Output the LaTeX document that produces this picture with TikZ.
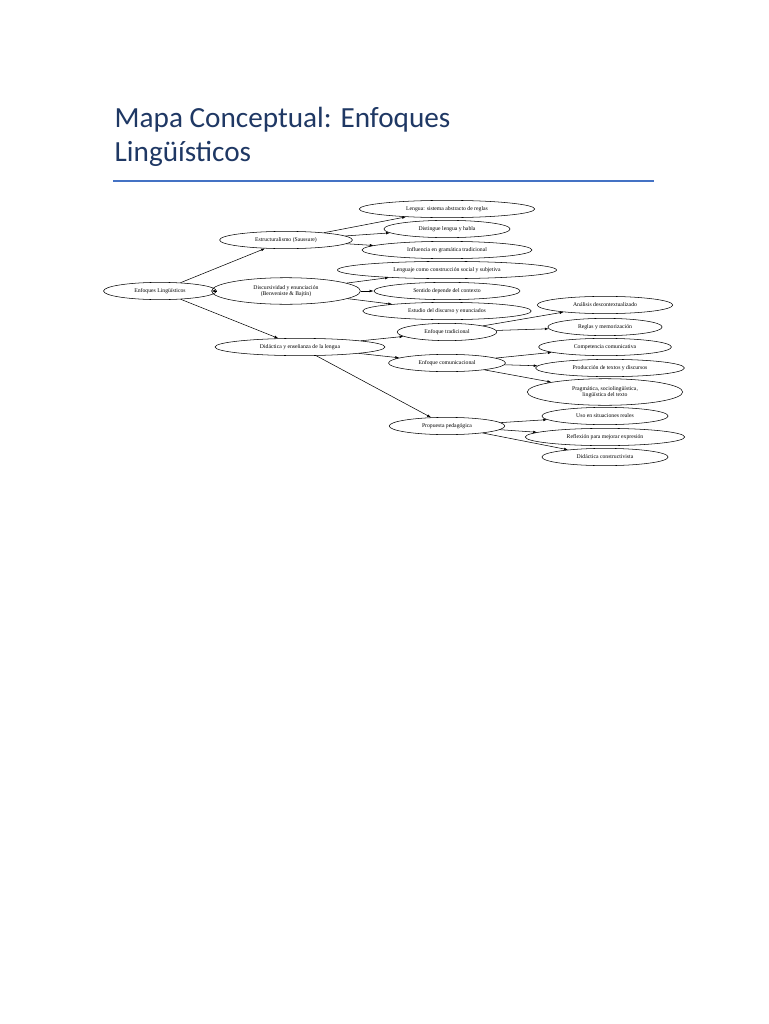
\documentclass[tikz,border=0pt]{standalone}
\usepackage{fontspec}
\newfontfamily\titlefont{Carlito}
\setmainfont{Liberation Serif}
\usetikzlibrary{shapes.geometric,arrows.meta}
\definecolor{titleblue}{HTML}{1F3864}
\definecolor{rule}{HTML}{4472C4}
\begin{document}
\begin{tikzpicture}[x=0.0264583cm,y=-0.0264583cm,
  el/.style={ellipse,draw,thin,inner sep=0pt,minimum height=13,font=\fontsize{4.3}{5}\selectfont,align=center},
  ar/.style={-{Latex[length=3pt,width=2pt]},thin}]
\useasboundingbox (0,0) rectangle (768,1024);
\node[anchor=west,text=titleblue,font=\titlefont\fontsize{22}{26}\selectfont,align=left] (title) at (110,137) {Mapa Conceptual: Enfoques\\Lingüísticos};
\coordinate (r1) at (113,181); \coordinate (r2) at (654,181);
\draw[rule,line width=1pt] (r1) -- (r2);
\node[el,minimum width=85] (root) at (160,291) {Enfoques Lingüísticos};
\node[el,minimum width=100] (est) at (286,240) {Estructuralismo (Saussure)};
\node[el,minimum width=112,minimum height=20] (dis) at (286,291) {Discursividad y enunciación\\(Benveniste \& Bajtín)};
\node[el,minimum width=128] (did) at (300,347) {Didáctica y enseñanza de la lengua};
\node[el,minimum width=132] (a1) at (447,209) {Lengua: sistema abstracto de reglas};
\node[el,minimum width=95] (a2) at (447,229) {Distingue lengua y habla};
\node[el,minimum width=128] (a3) at (447,250) {Influencia en gramática tradicional};
\node[el,minimum width=165] (b1) at (447,270) {Lenguaje como construcción social y subjetiva};
\node[el,minimum width=110] (b2) at (447,291) {Sentido depende del contexto};
\node[el,minimum width=127] (b3) at (447,311) {Estudio del discurso y enunciados};
\node[el,minimum width=75] (c1) at (447,332) {Enfoque tradicional};
\node[el,minimum width=88] (c2) at (447,363) {Enfoque comunicacional};
\node[el,minimum width=87] (c3) at (447,426) {Propuesta pedagógica};
\node[el,minimum width=102] (d1) at (605,305) {Análisis descontextualizado};
\node[el,minimum width=86] (d2) at (605,327) {Reglas y memorización};
\node[el,minimum width=100] (e1) at (605,347) {Competencia comunicativa};
\node[el,minimum width=112] (e2) at (610,368) {Producción de textos y discursos};
\node[el,minimum width=117,minimum height=20] (e3) at (605,392) {Pragmática, sociolingüística,\\lingüística del texto};
\node[el,minimum width=95] (f1) at (605,416) {Uso en situaciones reales};
\node[el,minimum width=120] (f2) at (605,437) {Reflexión para mejorar expresión};
\node[el,minimum width=95] (f3) at (605,457) {Didáctica constructivista};
\foreach \s/\t in {root/est,root/dis,root/did,est/a1,est/a2,est/a3,dis/b1,dis/b2,dis/b3,did/c1,did/c2,did/c3,c1/d1,c1/d2,c2/e1,c2/e2,c2/e3,c3/f1,c3/f2,c3/f3}
  \draw[ar] (\s) -- (\t);
\end{tikzpicture}
\end{document}
